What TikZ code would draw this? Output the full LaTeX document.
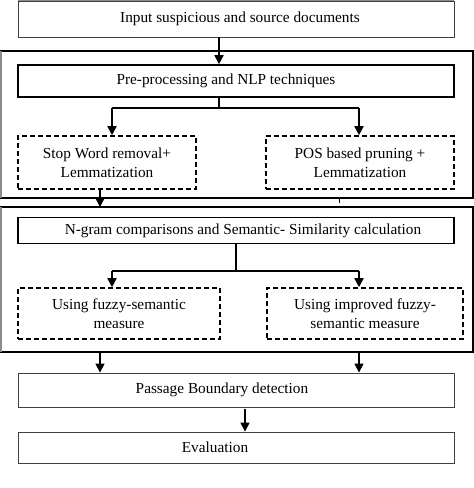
\documentclass[tikz,border=0pt]{standalone}
\usepackage{fontspec}
\setmainfont{Liberation Serif}
\usetikzlibrary{arrows.meta}
\begin{document}
\begin{tikzpicture}[x=1pt,y=-1pt,
  every node/.style={font=\fontsize{15.3}{19}\selectfont, inner sep=0pt, align=center},
  thinbox/.style={draw=black!75, line width=0.9pt},
  solidbox/.style={draw=black, line width=1.6pt},
  dashbox/.style={draw=black, line width=1.6pt, dash pattern=on 5pt off 3pt},
  frame/.style={draw=black, line width=2pt},
  conn/.style={draw=black, line width=1.6pt},
  arr/.style={conn, -{Triangle[length=9pt,width=9pt]}}
]
\useasboundingbox (0,0) rectangle (474,488);
% frames
\draw[frame] (1,51) rectangle (472.5,198);
\draw[frame] (1,207) rectangle (472.5,352);
\draw[draw=black!45, line width=2pt] (1,51) -- (1,198);
\draw[draw=black!45, line width=2pt] (1,207) -- (1,352);
% boxes
\node[thinbox, minimum width=436pt, minimum height=36pt] (inp) at (236,19) {};
\node at ([xshift=4pt]inp.center) (inpt) {Input suspicious and source documents};
\draw[draw=black!45, line width=1.2pt] (inp.north west) -- (inp.north east);
\node[solidbox, minimum width=436pt, minimum height=32pt] (pre) at (236,81) {};
\node at ([xshift=-10pt]pre.center) (pret) {Pre-processing and NLP techniques};
\node[dashbox, minimum width=178pt, minimum height=53pt] (sw) at (107,162.5) {Stop Word removal+\\Lemmatization};
\node[dashbox, minimum width=188pt, minimum height=53pt] (pos) at (360,162.5) {POS based pruning +\\Lemmatization};
\node[solidbox, minimum width=436pt, minimum height=26pt] (ng) at (236,230.5) {};
\node at ([xshift=7pt]ng.center) (ngt) {N-gram comparisons and Semantic- Similarity calculation};
\node[dashbox, minimum width=202pt, minimum height=51pt] (fz) at (119,313.5) {Using fuzzy-semantic\\measure};
\node[dashbox, minimum width=196pt, minimum height=51pt] (ifz) at (365,313.5) {Using improved fuzzy-\\semantic measure};
\node[thinbox, minimum width=436pt, minimum height=34pt] (pb) at (236,390) {};
\node at ([xshift=-14pt]pb.center) (pbt) {Passage Boundary detection};
\node[thinbox, minimum width=436pt, minimum height=31pt] (ev) at (236,447.5) {};
\node at ([xshift=-21pt]ev.center) (evt) {Evaluation};
% coordinates
\coordinate (f1t) at (219,51);
\coordinate (s1) at (219,108);
\coordinate (s1l) at (112,108);
\coordinate (s1r) at (359,108);
\coordinate (f2t) at (100,207);
\coordinate (tk1) at (339,198);
\coordinate (tk2) at (339,203);
\coordinate (s2) at (236,271);
\coordinate (s2l) at (112,271);
\coordinate (s2r) at (359,271);
\coordinate (f2bl) at (100,352);
\coordinate (f2br) at (359,352);
\coordinate (pe) at (245,409);
% connectors
\draw[arr] (inp.south -| f1t) -- (pre.north -| f1t);
\draw[conn] (pre.south -| s1) -- (s1);
\draw[conn] (s1l) -- (s1r);
\draw[arr] (s1l) -- (sw.north -| s1l);
\draw[arr] (s1r) -- (pos.north -| s1r);
\draw[arr] (sw.south -| f2t) -- (f2t);
\draw[conn, line width=1pt] (tk1) -- (tk2);
\draw[conn] (ng.south -| s2) -- (s2);
\draw[conn] (s2l) -- (s2r);
\draw[arr] (s2l) -- (fz.north -| s2l);
\draw[arr] (s2r) -- (ifz.north -| s2r);
\draw[arr] (f2bl) -- (pb.north -| f2bl);
\draw[arr] (f2br) -- (pb.north -| f2br);
\draw[arr] (pe) -- (ev.north -| pe);
\end{tikzpicture}
\end{document}
